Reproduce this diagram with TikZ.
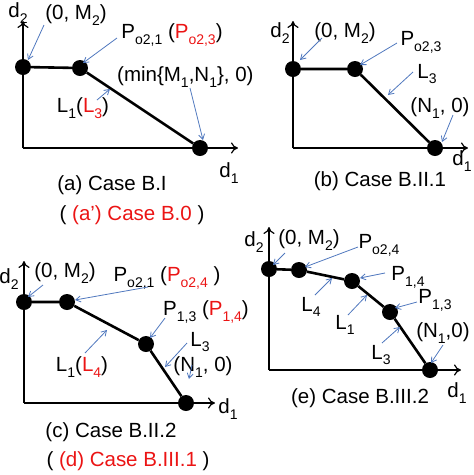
\documentclass[tikz,border=0pt]{standalone}
\usepackage{fontspec}
\setmainfont{Liberation Sans}
\usetikzlibrary{arrows.meta}
\definecolor{bluearr}{RGB}{80,120,190}
\definecolor{redtxt}{RGB}{235,20,20}
\newcommand{\sbs}[1]{\raisebox{-0.28em}{\fontsize{14}{14}\selectfont #1}}
\newcommand{\rd}[1]{\textcolor{redtxt}{#1}}
\begin{document}
\begin{tikzpicture}[x=1pt,y=-1pt,
  axis/.style={line width=2.6pt,-{To[length=7pt,width=11pt,line width=1.2pt]}},
  curve/.style={line width=2.6pt},
  dot/.style={circle,fill=black,inner sep=0pt,minimum size=16pt},
  lab/.style={inner sep=0pt,font=\fontsize{20.5}{24}\selectfont},
  ptr/.style={draw=bluearr,line width=0.8pt,-{Straight Barb[length=5pt,width=6pt]}}]
\useasboundingbox (0,0) rectangle (474,475);
% ---------- panel (a)
\coordinate (aO) at (23,148);
\coordinate (aY) at (23,21);
\coordinate (aX) at (238,148);
\draw[axis] (aO) -- (aY);
\draw[axis] (aO) -- (aX);
\node[dot] (a1) at (23,67) {};
\node[dot] (a2) at (80,68) {};
\node[dot] (a3) at (200,148) {};
\draw[curve] (a1) -- (a2) -- (a3);
\node[lab] (ad2) at (18,13) {d\sbs{2}};
\node[lab] (ad1) at (229,173) {d\sbs{1}};
\node[lab] (aM2) at (76,15) {(0, M\sbs{2})};
\node[lab] (aP) at (172,35) {P\sbs{o2,1} (\rd{P\sbs{o2,3}})};
\node[lab,anchor=west] (aN) at (117,77) {(min\{M\sbs{1},N\sbs{1}\}, 0)};
\node[lab] (aL) at (83,108) {L\sbs{1}(\rd{L\sbs{3}})};
\node[lab] (acap) at (112,185) {(a) Case B.I};
\node[lab] (acap2) at (132,215) {( \rd{(a') Case B.0} )};
\coordinate (aM2s) at (44,25); \coordinate (aM2e) at (28,60);
\coordinate (aPs) at (117,38); \coordinate (aPe) at (83,63);
\coordinate (aLs) at (97,100); \coordinate (aLe) at (110,89);
\coordinate (aNs) at (190,88); \coordinate (aNe) at (203,140);
\draw[ptr] (aM2s) -- (aM2e);
\draw[ptr] (aPs) -- (aPe);
\draw[ptr] (aLs) -- (aLe);
\draw[ptr] (aNs) -- (aNe);
% ---------- panel (b)
\coordinate (bO) at (293,148);
\coordinate (bY) at (293,21);
\coordinate (bX) at (468,148);
\draw[axis] (bO) -- (bY);
\draw[axis] (bO) -- (bX);
\node[dot] (b1) at (293,69) {};
\node[dot] (b2) at (355,69) {};
\node[dot] (b3) at (435,148) {};
\draw[curve] (b1) -- (b2) -- (b3);
\node[lab] (bd2) at (280,33) {d\sbs{2}};
\node[lab] (bd1) at (462,161) {d\sbs{1}};
\node[lab] (bM2) at (345,33) {(0, M\sbs{2})};
\node[lab] (bP) at (421,42) {P\sbs{o2,3}};
\node[lab] (bL) at (427,74) {L\sbs{3}};
\node[lab] (bN) at (440,108) {(N\sbs{1}, 0)};
\node[lab] (bcap) at (380,181) {(b) Case B.II.1};
\coordinate (bM2s) at (322,38); \coordinate (bM2e) at (300,60);
\coordinate (bPs) at (397,43); \coordinate (bPe) at (360,65);
\coordinate (bLs) at (413,72); \coordinate (bLe) at (388,95);
\coordinate (bNs) at (453,115); \coordinate (bNe) at (442,142);
\draw[ptr] (bM2s) -- (bM2e);
\draw[ptr] (bPs) -- (bPe);
\draw[ptr] (bLs) -- (bLe);
\draw[ptr] (bNs) -- (bNe);
% ---------- panel (c)
\coordinate (cO) at (24,403);
\coordinate (cY) at (24,261);
\coordinate (cX) at (215,403);
\draw[axis] (cO) -- (cY);
\draw[axis] (cO) -- (cX);
\node[dot] (c1) at (24,302) {};
\node[dot] (c2) at (67,302) {};
\node[dot] (c3) at (146,344) {};
\node[dot] (c4) at (186,403) {};
\draw[curve] (c1) -- (c2) -- (c3) -- (c4);
\node[lab] (cd2) at (9,279) {d\sbs{2}};
\node[lab] (cd1) at (228,409) {d\sbs{1}};
\node[lab] (cM2) at (65,273) {(0, M\sbs{2})};
\node[lab] (cP) at (167,278) {P\sbs{o2,1} (\rd{P\sbs{o2,4}} )};
\node[lab,anchor=west] (cP13) at (163,312) {P\sbs{1,3} (\rd{P\sbs{1,4}})};
\node[lab] (cL3) at (200,342) {L\sbs{3}};
\node[lab] (cN) at (203,367) {(N\sbs{1}, 0)};
\node[lab] (cL) at (82,367) {L\sbs{1}(\rd{L\sbs{4}})};
\node[lab] (ccap) at (111,432) {(c) Case B.II.2};
\node[lab] (ccap2) at (128,461) {( \rd{(d) Case B.III.1} )};
\coordinate (cM2s) at (43,285); \coordinate (cM2e) at (28,297);
\coordinate (cPs) at (148,287); \coordinate (cPe) at (75,300);
\coordinate (cP13s) at (165,318); \coordinate (cP13e) at (150,338);
\coordinate (cL3s) at (187,343); \coordinate (cL3e) at (165,367);
\coordinate (cLs) at (85,353); \coordinate (cLe) at (107,330);
\coordinate (cNs) at (192,365); \coordinate (cNe) at (189,379);
\draw[ptr] (cM2s) -- (cM2e);
\draw[ptr] (cPs) -- (cPe);
\draw[ptr] (cP13s) -- (cP13e);
\draw[ptr] (cL3s) -- (cL3e);
\draw[ptr] (cLs) -- (cLe);
\draw[ptr] (cNs) -- (cNe);
% ---------- panel (e)
\coordinate (eO) at (269,370);
\coordinate (eY) at (269,227);
\coordinate (eX) at (461,370);
\draw[axis] (eO) -- (eY);
\draw[axis] (eO) -- (eX);
\node[dot] (e1) at (269,269) {};
\node[dot] (e2) at (299,270) {};
\node[dot] (e3) at (352,281) {};
\node[dot] (e4) at (390,312) {};
\node[dot] (e5) at (430,370) {};
\draw[curve] (e1) -- (e2) -- (e3) -- (e4) -- (e5);
\node[lab] (ed2) at (254,242) {d\sbs{2}};
\node[lab] (ed1) at (457,393) {d\sbs{1}};
\node[lab] (eM2) at (309,240) {(0, M\sbs{2})};
\node[lab] (eP) at (379,245) {P\sbs{o2,4}};
\node[lab] (eP14) at (408,277) {P\sbs{1,4}};
\node[lab] (eP13) at (435,300) {P\sbs{1,3}};
\node[lab] (eN) at (443,333) {(N\sbs{1},0)};
\node[lab] (eL4) at (311,307) {L\sbs{4}};
\node[lab] (eL1) at (345,325) {L\sbs{1}};
\node[lab] (eL3) at (381,355) {L\sbs{3}};
\node[lab] (ecap) at (360,398) {(e) Case B.III.2};
\coordinate (eM2s) at (285,253); \coordinate (eM2e) at (273,265);
\coordinate (ePs) at (358,247); \coordinate (ePe) at (305,267);
\coordinate (eP14s) at (385,273); \coordinate (eP14e) at (360,278);
\coordinate (eP13s) at (417,302); \coordinate (eP13e) at (395,308);
\coordinate (eL4s) at (315,295); \coordinate (eL4e) at (332,278);
\coordinate (eL1s) at (348,315); \coordinate (eL1e) at (367,295);
\coordinate (eL3s) at (382,343); \coordinate (eL3e) at (400,327);
\coordinate (eNs) at (443,345); \coordinate (eNe) at (431,363);
\draw[ptr] (eM2s) -- (eM2e);
\draw[ptr] (ePs) -- (ePe);
\draw[ptr] (eP14s) -- (eP14e);
\draw[ptr] (eP13s) -- (eP13e);
\draw[ptr] (eL4s) -- (eL4e);
\draw[ptr] (eL1s) -- (eL1e);
\draw[ptr] (eL3s) -- (eL3e);
\draw[ptr] (eNs) -- (eNe);
\end{tikzpicture}
\end{document}
